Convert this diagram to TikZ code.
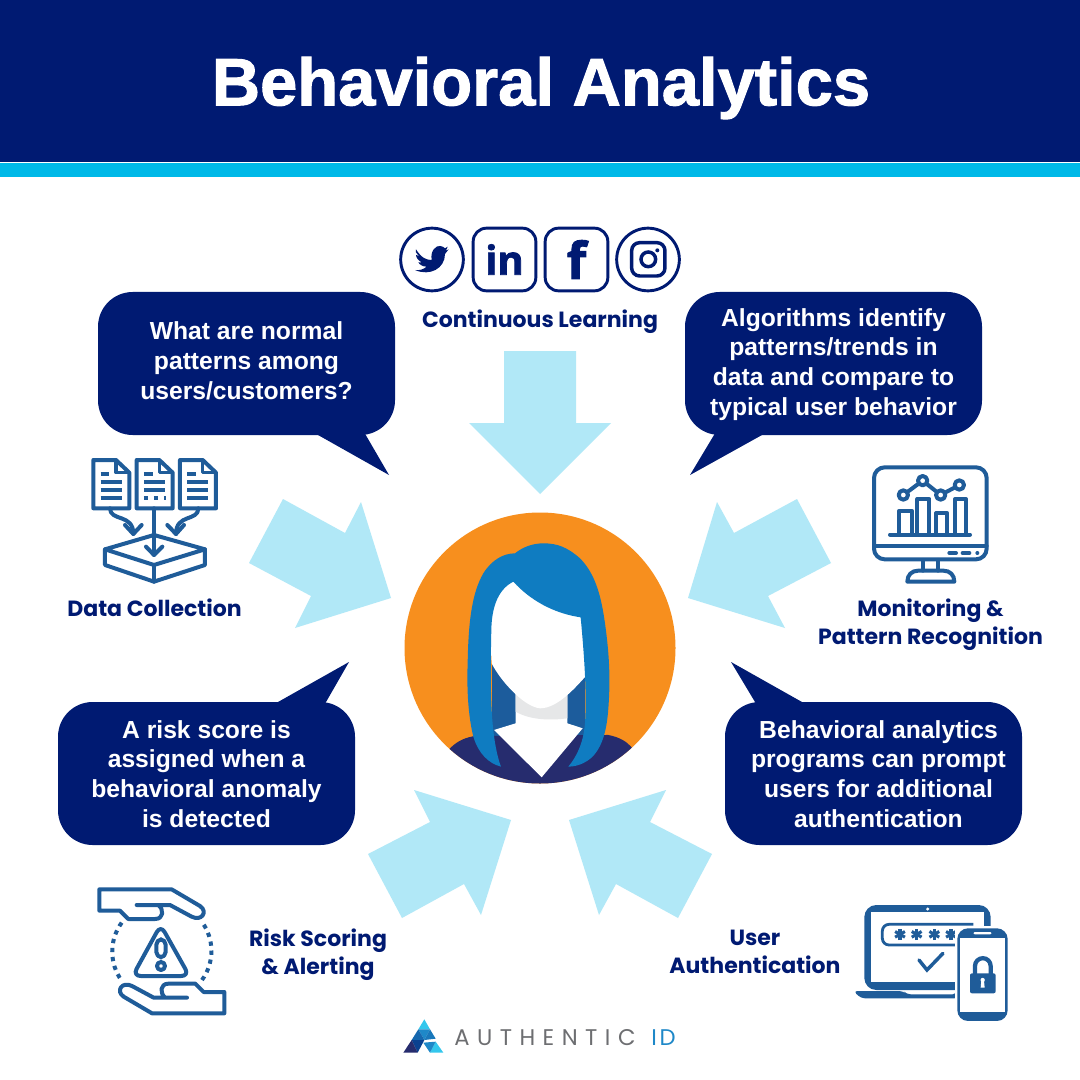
\documentclass[tikz,border=0pt]{standalone}
\usepackage{fontspec}
\setmainfont{Liberation Sans}
\newfontfamily\logofont[LetterSpace=33]{Poppins}
\newfontfamily\idfont[LetterSpace=12]{Poppins}
\newfontfamily\labelfont{Poppins}
\newfontfamily\titlefont[FakeBold=1.5]{Liberation Sans Bold}
\newfontfamily\iconfont[FakeBold=1.8]{Open Sans Bold}
\usetikzlibrary{calc}
\definecolor{navy}{HTML}{001A72}
\definecolor{cyanband}{HTML}{00B9E8}
\definecolor{arrowblue}{HTML}{B1E8F7}
\definecolor{orangeb}{HTML}{F78F1E}
\definecolor{hairblue}{HTML}{0F7CC1}
\definecolor{backhair}{HTML}{1C5C9C}
\definecolor{jacket}{HTML}{262C6E}
\definecolor{neckgrey}{HTML}{E6E7E8}
\definecolor{iconblue}{HTML}{1F5C99}
\definecolor{logogrey}{HTML}{6D6E71}
\definecolor{logoblue}{HTML}{1E88C8}
\tikzset{
  x=0.75pt,y=-0.75pt,
  bubble/.style={fill=navy,rounded corners=26pt,minimum width=222.75pt,minimum height=107.25pt,inner sep=0pt},
  bubtext/.style={text=white,inner sep=0pt,align=center,font=\bfseries\fontsize{18.5}{22.4}\selectfont},
  tail/.style={fill=navy},
  bigarrow/.style={fill=arrowblue},
  label/.style={text=navy,align=center,inner sep=0pt,font=\labelfont\bfseries\fontsize{16.5}{21}\selectfont},
  social/.style={draw=navy,line width=2.2pt,fill=white},
  ic/.style={draw=iconblue,line width=3pt,line join=round,line cap=round},
  ict/.style={draw=iconblue,line width=2.4pt,line join=round,line cap=round},
}
\begin{document}
\begin{tikzpicture}
\useasboundingbox (0,0) rectangle (1080,1080);
\fill[white] (0,0) rectangle (1080,1080);
% header
\fill[navy] (0,0) rectangle (1080,162);
\fill[cyanband] (0,163) rectangle (1080,177);
\node[text=white,inner sep=0pt,font=\titlefont\fontsize{50.2}{60}\selectfont] (title) at (541,88) {Behavioral Analytics};

% social icons
\node[social,circle,minimum size=47pt,inner sep=0pt] (tw) at (432,259.5) {};
\node[social,rounded corners=10pt,minimum size=47pt,inner sep=0pt,text=navy,font=\iconfont\fontsize{30}{30}\selectfont] (li) at (504.5,259.5) {in};
\node[social,rounded corners=10pt,minimum size=47pt,inner sep=0pt,text=navy,font=\iconfont\fontsize{38}{38}\selectfont] (fb) at (576.5,259.5) {f};
\node[social,circle,minimum size=47pt,inner sep=0pt] (ig) at (648,259.5) {};
\begin{scope}[shift={(390,220)},scale=0.3333]
\fill[navy] (78,88) .. controls (95,115) and (110,120) .. (125,120)
  .. controls (120,90) and (140,76) .. (150,78) .. controls (158,78) and (162,82) .. (165,85)
  -- (173,80) -- (168,92) -- (176,88) -- (165,102)
  .. controls (165,145) and (120,170) .. (75,150)
  .. controls (90,152) and (100,148) .. (110,140)
  .. controls (95,140) and (88,132) .. (85,127) -- (95,127)
  .. controls (85,122) and (78,112) .. (78,105) -- (88,108)
  .. controls (78,100) and (74,92) .. (78,88) -- cycle;
\draw[navy,line width=2.6pt,rounded corners=6pt] (725,68) rectangle (825,168);
\draw[navy,line width=2.6pt] (775,118) circle (22);
\fill[navy] (802,91) circle (6);
\end{scope}
\node[label] (cl) at (540,322) {Continuous Learning};

% speech bubbles
\fill[tail] (312.7,432) -- (389,475) -- (364,432) -- cycle;
\fill[tail] (767.4,432) -- (690,475) -- (715.8,432) -- cycle;
\fill[tail] (272.7,705) -- (349,662) -- (324.3,705) -- cycle;
\fill[tail] (807.3,705) -- (731,662) -- (756.8,705) -- cycle;
\node[bubble] (b1) at (246.5,363.5) {};
\node[bubble] (b2) at (833.5,363.5) {};
\node[bubble] (b3) at (206.5,773.5) {};
\node[bubble] (b4) at (873.5,773.5) {};
\node[bubtext] (t1) at (246.5,361) {What are normal\\patterns among\\users/customers?};
\node[bubtext] (t2) at (833.5,364.5) {Algorithms identify\\patterns/trends in\\data and compare to\\typical user behavior};
\node[bubtext] (t3) at (206.5,774) {A risk score is\\assigned when a\\behavioral anomaly\\is detected};
\node[bubtext] (t4) at (878.5,774) {Behavioral analytics\\programs can prompt\\users for additional\\authentication};

% big arrows
\fill[bigarrow] (504,351) -- (576,351) -- (576,423) -- (611,423) -- (540,494) -- (469,423) -- (504,423) -- cycle;
\fill[bigarrow] (283,499) -- (345,533) -- (361,502) -- (391,598) -- (295,628) -- (311,596) -- (249,563) -- cycle;
\fill[bigarrow] (797,499) -- (734,533) -- (717,502) -- (688,598) -- (785,628) -- (768,596) -- (831,563) -- cycle;
\fill[bigarrow] (368,854) -- (430,822) -- (414,790) -- (511,820) -- (481,915) -- (464,884) -- (402,918) -- cycle;
\fill[bigarrow] (712,854) -- (650,822) -- (666,790) -- (569,820) -- (599,915) -- (616,884) -- (678,918) -- cycle;

% person
\fill[orangeb] (540,648) circle (135.5);
\begin{scope}
\clip (540,648) circle (135.5);
\begin{scope}[shift={(400,510)},scale=0.3333]
\fill[backhair] (275,440) rectangle (347,695);
\fill[backhair] (502,480) rectangle (556,695);
\fill[jacket] (150,715) .. controls (175,690) and (200,682) .. (225,678) -- (625,675)
  .. controls (660,682) and (680,695) .. (695,712) -- (760,840) -- (100,840) -- cycle;
\fill[white] (282,660) -- (347,640) -- (347,540) -- (502,540) -- (502,640) -- (548,655) -- (425,802) -- cycle;
\fill[neckgrey] (347,545) -- (502,545) -- (502,625) .. controls (450,632) and (390,630) .. (347,605) -- cycle;
\fill[white] (330,205) -- (550,315) -- (565,400) -- (556,500)
  .. controls (520,540) and (470,595) .. (420,595)
  .. controls (370,590) and (300,510) .. (275,460) -- (268,330) -- (280,250) -- cycle;
\fill[hairblue] (345,130) .. controls (370,110) and (400,100) .. (430,100)
  .. controls (470,100) and (500,110) .. (540,145)
  .. controls (590,195) and (605,270) .. (615,340)
  .. controls (625,410) and (630,480) .. (628,540)
  .. controls (625,620) and (620,680) .. (590,725)
  .. controls (570,755) and (535,770) .. (505,770)
  .. controls (530,740) and (550,700) .. (555,640)
  .. controls (560,570) and (556,470) .. (542,322)
  .. controls (460,310) and (390,270) .. (340,215)
  .. controls (290,240) and (275,300) .. (274,360)
  .. controls (272,450) and (270,580) .. (280,660)
  .. controls (285,710) and (295,750) .. (303,770)
  .. controls (265,760) and (235,730) .. (220,680)
  .. controls (205,620) and (200,540) .. (203,460)
  .. controls (205,340) and (215,250) .. (250,190)
  .. controls (275,150) and (310,130) .. (345,130) -- cycle;
\end{scope}
\end{scope}

% data collection icon
\begin{scope}[shift={(80,450)},scale=0.3333]
\foreach \o in {0,130,260}{
 \begin{scope}[xshift=\o*0.75pt]
 \draw[ic] (40,30) -- (108,30) -- (148,68) -- (148,175) -- (40,175) -- cycle;
 \draw[ict] (108,30) -- (108,68) -- (148,68);
 \draw[ic,line cap=butt] (62,72) -- (88,72);
 \draw[ic,line cap=butt] (62,97) -- (125,97);
 \draw[ic,line cap=butt] (62,120) -- (125,120);
 \end{scope}
}
\draw[ic,line cap=butt] (62,145) -- (125,145);
\draw[ic,line cap=butt] (322,145) -- (385,145);
\draw[ic,dash pattern=on 3pt off 4.5pt,line cap=butt] (192,145) -- (258,145);
\draw[ic] (90,175) .. controls (90,215) and (160,190) .. (160,252);
\draw[ic] (135,225) -- (160,252) -- (185,225);
\draw[ic] (222,175) -- (222,315);
\draw[ic] (198,290) -- (222,315) -- (247,290);
\draw[ic] (355,175) .. controls (355,215) and (288,190) .. (288,252);
\draw[ic] (262,225) -- (288,252) -- (312,225);
\draw[ic] (75,298) -- (222,255) -- (375,298) -- (222,345) -- cycle;
\draw[ic] (75,298) -- (75,345) -- (222,395) -- (375,345) -- (375,298);
\draw[ic] (222,345) -- (222,395);
\end{scope}
\node[label] (dc) at (154.5,608) {Data Collection};

% monitor icon
\begin{scope}[shift={(860,460)},scale=0.3333]
\draw[ic,rounded corners=8pt] (42,22) rectangle (380,298);
\draw[ic] (42,258) -- (380,258);
\draw[ic] (188,300) -- (188,332);
\draw[ic] (235,300) -- (235,332);
\draw[ic] (142,365) .. controls (142,345) and (155,332) .. (175,332) -- (250,332) .. controls (270,332) and (283,345) .. (283,365) -- cycle;
\draw[ic] (268,279) -- (288,279);
\draw[ic] (308,279) -- (328,279);
\fill[iconblue] (352,279) circle (6);
\draw[ic] (90,224) -- (330,224);
\draw[ic] (118,224) -- (118,152) -- (155,152) -- (155,224);
\draw[ic] (172,224) -- (172,117) -- (208,117) -- (208,224);
\draw[ic] (228,224) -- (228,160) -- (262,160) -- (262,224);
\draw[ic] (285,224) -- (285,117) -- (318,117) -- (318,224);
\draw[ic] (130,105) -- (188,62) -- (242,105) -- (298,75);
\foreach \p in {(130,105),(188,62),(242,105),(298,75)}{\draw[ic,fill=white] \p circle (14);}
\end{scope}
\node[label] (mp) at (930.5,625) {Monitoring \&\\Pattern Recognition};

% risk icon
\begin{scope}[shift={(90,880)},scale=0.3333]
\draw[ic,dash pattern=on 3.2pt off 3.6pt,line cap=butt,line width=3pt] (95,128) arc[start angle=216,end angle=144,radius=148];
\draw[ic,dash pattern=on 3.2pt off 3.6pt,line cap=butt,line width=3pt] (336,300) arc[start angle=36,end angle=-36,radius=148];
\draw[ic] (205,75) .. controls (222,88) and (222,117) .. (195,117) -- (115,117) -- (90,92) -- (28,92) -- (28,28) -- (245,28) -- (330,78) .. controls (355,95) and (335,125) .. (305,110) -- (240,75) -- (140,75);
\draw[ic] (226,353) .. controls (209,340) and (209,311) .. (236,311) -- (316,311) -- (341,336) -- (403,336) -- (403,400) -- (186,400) -- (101,350) .. controls (76,333) and (96,303) .. (126,318) -- (191,353) -- (291,353);
\draw[ic,rounded corners=6pt] (212,135) -- (298,288) -- (128,288) -- cycle;
\draw[ic,rounded corners=4pt] (199,178) rectangle (227,232);
\draw[ic] (213,258) circle (12);
\end{scope}
\node[label] (rs) at (318,955) {Risk Scoring\\\& Alerting};

% authentication icon
\begin{scope}[shift={(845,895)},scale=0.3333]
\fill[iconblue,rounded corners=9pt] (58,30) rectangle (437,285);
\fill[white] (78,52) rectangle (418,262);
\fill[white] (248,42) circle (5);
\fill[iconblue,rounded corners=3pt] (25,288) -- (175,288) -- (185,298) -- (335,298) -- (335,288) -- (340,310) -- (48,310) -- cycle;
\draw[iconblue,line width=2.1pt,rounded corners=5pt] (385,88) -- (112,88) -- (112,150) -- (385,150);
\foreach \x in {165,215,268,318}{
 \foreach \a in {90,30,150}{\draw[iconblue,line width=2.3pt] (\x,118) ++(\a:17) -- ++(\a+180:34);}
}
\draw[iconblue,line width=2.6pt,line cap=round] (222,195) -- (246,225) -- (294,175);
\fill[white] (330,92) rectangle (495,385);
\fill[iconblue,rounded corners=8pt] (337,100) rectangle (488,378);
\fill[white] (345,130) rectangle (480,350);
\fill[white,rounded corners=1pt] (385,111) rectangle (440,118);
\draw[iconblue,line width=3.2pt] (390,240) -- (390,213) arc[start angle=180,end angle=360,radius=23.5] -- (437,240);
\fill[iconblue,rounded corners=1.5pt] (375,235) rectangle (452,295);
\fill[white] (413,255) circle (6.5);
\fill[white] (409,257) -- (417,257) -- (419,278) -- (407,278) -- cycle;
\end{scope}
\node[label] (ua) at (755,952) {User\\Authentication};

% logo
\begin{scope}[shift={(395,1010)},scale=0.3333]
\fill[cyanband!80!white] (88,28) -- (70,58) -- (105,58) -- cycle;
\fill[logoblue] (70,58) -- (105,58) -- (88,90) -- cycle;
\fill[logoblue!85!navy] (105,58) -- (88,90) -- (122,86) -- cycle;
\fill[navy!30!logoblue] (70,58) -- (50,90) -- (88,90) -- cycle;
\fill[navy!65!logoblue] (50,90) -- (88,90) -- (68,128) -- cycle;
\fill[jacket] (50,90) -- (25,128) -- (68,128) -- cycle;
\fill[cyanband!80!white] (122,95) -- (145,128) -- (105,128) -- cycle;
\fill[logoblue] (85,98) -- (122,95) -- (105,128) -- cycle;
\end{scope}
\node[inner sep=0pt,anchor=base west,text=logogrey,font=\logofont\fontsize{17}{20}\selectfont] (auth) at (454,1045) {AUTHENTIC};
\node[inner sep=0pt,anchor=base west,text=logoblue,font=\idfont\fontsize{17}{20}\selectfont] (idl) at (651,1045) {ID};
\end{tikzpicture}
\end{document}
